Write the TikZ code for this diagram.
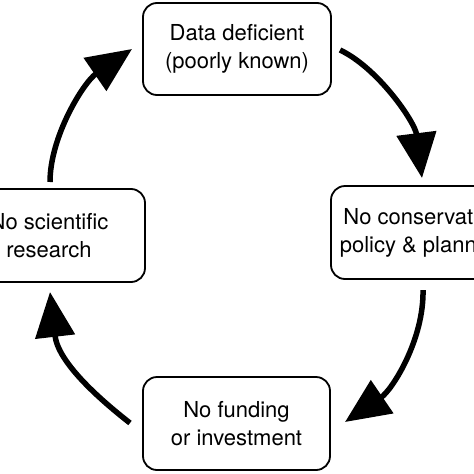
\documentclass[tikz,border=0pt]{standalone}
\usepackage{fontspec}
\setmainfont{TeX Gyre Heros}
\usetikzlibrary{arrows.meta}
\tikzset{
  stagebox/.style={draw=black, line width=1.8pt, rounded corners=14pt, fill=white,
    align=center, inner sep=0pt, font=\fontsize{22}{28}\selectfont},
  cyclearrow/.style={line width=5.5pt, -{Triangle[length=45pt,width=39pt]}}
}
\begin{document}
\begin{tikzpicture}[x=1pt,y=-1pt]
\useasboundingbox (0,0) rectangle (474,474);
\clip (0,0) rectangle (474,474);
\fill[white] (0,0) rectangle (474,474);
\node[stagebox, minimum width=188pt, minimum height=92pt] (top) at (237,49) {Data deficient\\(poorly known)};
\node[stagebox, minimum width=184pt, minimum height=93pt] (right) at (423,232.5) {No conservation\\policy \& planning};
\node[stagebox, minimum width=187pt, minimum height=93pt] (bottom) at (236.5,423.5) {No funding\\or investment};
\node[stagebox, minimum width=192pt, minimum height=93pt] (left) at (49,235.5) {No scientific\\research};
\coordinate (a1s) at (340,50);
\coordinate (a1e) at (422,178);
\coordinate (a2s) at (423,290);
\coordinate (a2e) at (345,422);
\coordinate (a3s) at (130,423);
\coordinate (a3e) at (50,292);
\coordinate (a4s) at (50,182);
\coordinate (a4e) at (132,49);
\draw[cyclearrow] (a1s) .. controls (378,68) and (415,122) .. (a1e);
\draw[cyclearrow] (a2s) .. controls (424,340) and (392,390) .. (a2e);
\draw[cyclearrow] (a3s) .. controls (98,398) and (58,362) .. (a3e);
\draw[cyclearrow] (a4s) .. controls (50,136) and (84,82) .. (a4e);
\end{tikzpicture}
\end{document}
